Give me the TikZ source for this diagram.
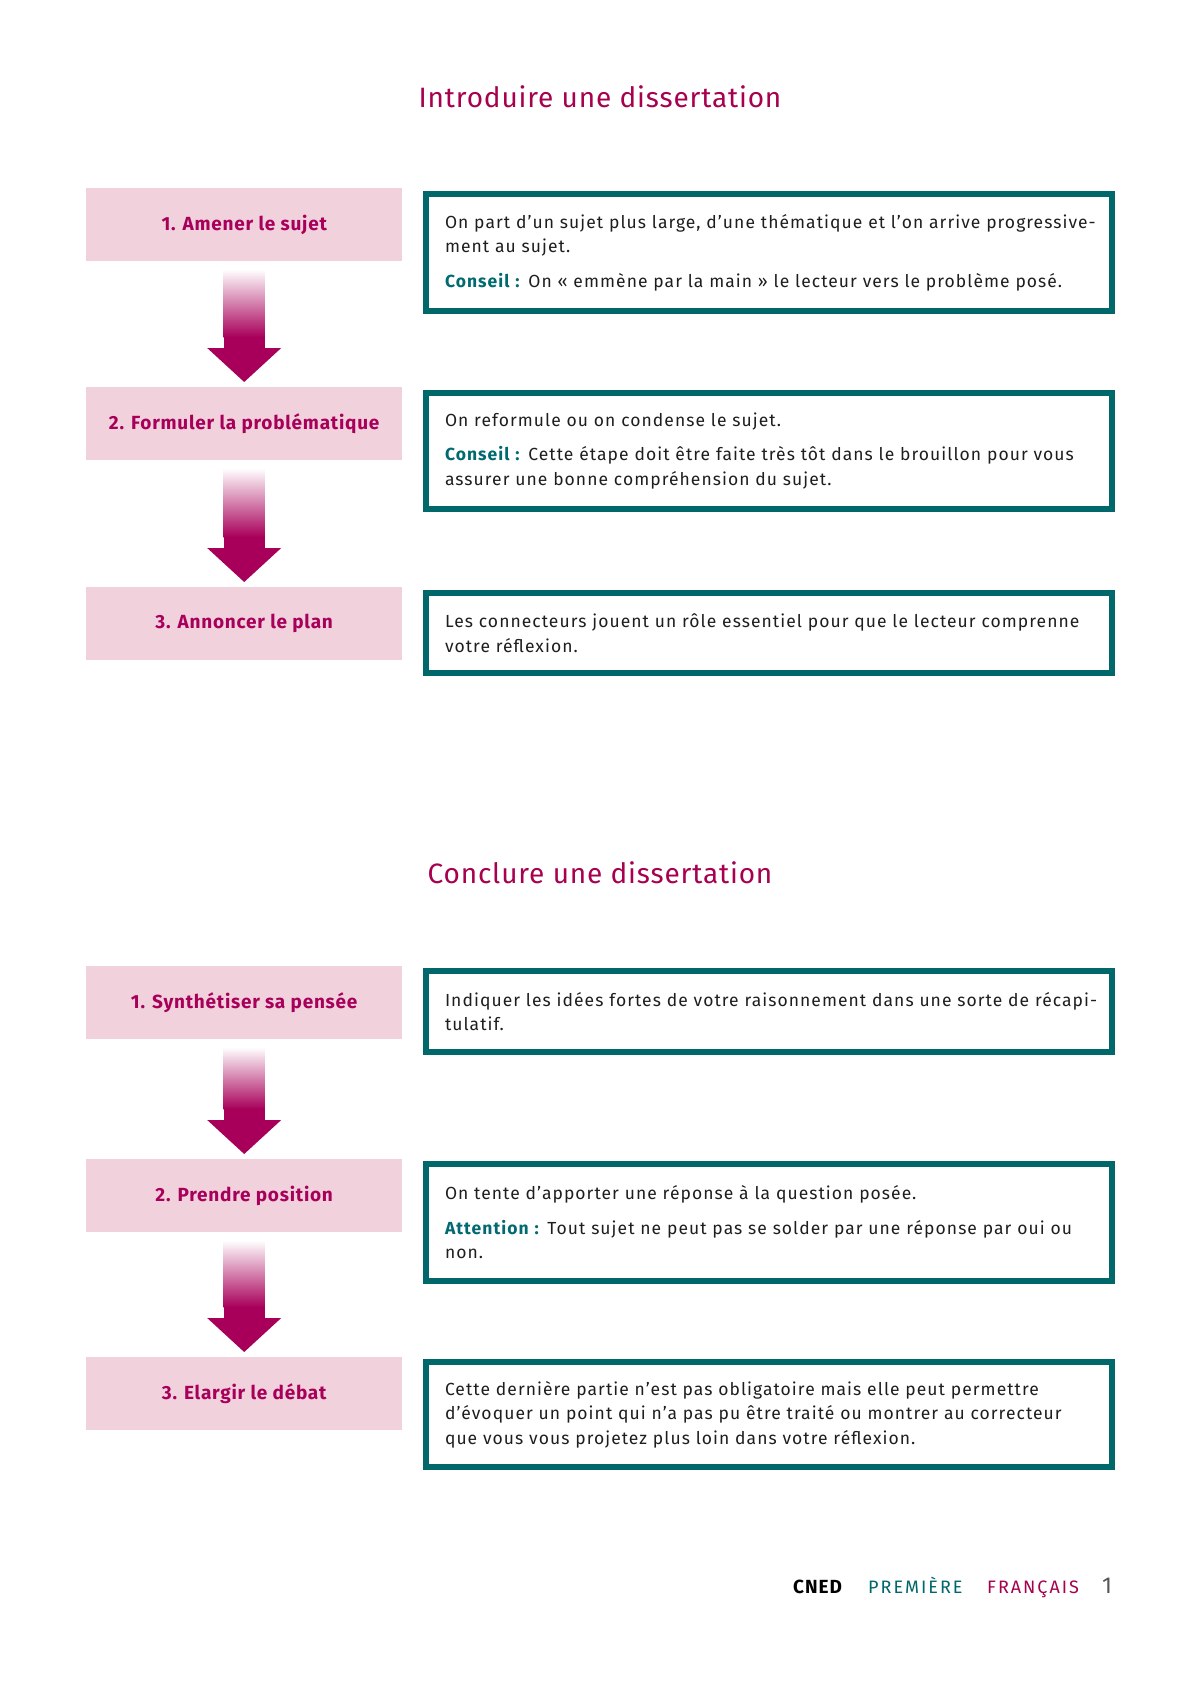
\documentclass[tikz,border=0pt]{standalone}
\usepackage{fontspec}
\setmainfont{Fira Sans}
\usetikzlibrary{calc}
\definecolor{mag}{HTML}{A8005A}
\definecolor{titlemag}{HTML}{A6004F}
\definecolor{pinkfill}{HTML}{F0D1DC}
\definecolor{tealb}{HTML}{00676B}
\definecolor{tealt}{HTML}{006A70}
\definecolor{footgray}{HTML}{555555}
\definecolor{bodytext}{HTML}{1E1E1E}
\newcommand\cnedarrow[2]{%
  \coordinate (#1-s) at ([yshift=-8pt]#1.south);
  \coordinate (#2-t) at ([yshift=5pt]#2.north);
  \coordinate (#2-h) at ([yshift=39pt]#2.north);
  \shade[top color=white, bottom color=mag] ($(#1-s)+(-20.5pt,0pt)$) rectangle ($(#2-h)+(20.5pt,11pt)$);
  \fill[mag] ($(#2-h)+(-20.5pt,11.5pt)$) rectangle ($(#2-h)+(20.5pt,0pt)$);
  \fill[mag] ($(#2-h)+(-37pt,0pt)$) -- ($(#2-h)+(37pt,0pt)$) -- (#2-t) -- cycle;
}
\newcommand\hl[1]{{\bfseries\color{tealt}#1}}
\newcommand\textline[1]{\mbox{#1}}
\begin{document}
\begin{tikzpicture}[x=1pt,y=-1pt,
  stepbox/.style={rectangle, fill=pinkfill, minimum width=316pt, minimum height=73pt,
    inner sep=0pt, text=mag, anchor=north west,
    font=\bfseries\fontsize{19}{22}\selectfont\addfontfeature{LetterSpace=4}},
  infobox/.style={rectangle, draw=tealb, line width=6pt, minimum width=686pt,
    inner xsep=19pt, inner ysep=4pt, text width=648pt, align=left, anchor=north west,
    text=bodytext, font=\fontsize{17.5}{24.5}\selectfont\addfontfeature{LetterSpace=6}},
  titletext/.style={anchor=base, text=titlemag, inner sep=0pt,
    font=\fontsize{28}{32}\selectfont\addfontfeature{LetterSpace=3}},
  foot/.style={anchor=base west, inner sep=0pt, font=\fontsize{18}{20}\selectfont\addfontfeature{LetterSpace=11}}]
\useasboundingbox (0,0) rectangle (1200,1696);
\fill[white] (0,0) rectangle (1200,1696);

\node[titletext] (t1) at (600,108) {Introduire une dissertation};

\node[stepbox] (a1) at (86,188) {1. Amener le sujet};
\node[stepbox] (a2) at (86,387) {2. Formuler la problématique};
\node[stepbox] (a3) at (86,587) {3. Annoncer le plan};

\node[infobox, minimum height=117pt] (b1) at (423,191) {\textline{On part d’un sujet plus large, d’une thématique et l’on arrive progressive-}\\\textline{ment au sujet.}\\[10pt]\textline{\hl{Conseil :} On « emmène par la main » le lecteur vers le problème posé.}};
\node[infobox, minimum height=116pt] (b2) at (423,390) {\textline{On reformule ou on condense le sujet.}\\[10pt]\textline{\hl{Conseil :} Cette étape doit être faite très tôt dans le brouillon pour vous}\\\textline{assurer une bonne compréhension du sujet.}};
\node[infobox, minimum height=80pt] (b3) at (423,590) {\textline{Les connecteurs jouent un rôle essentiel pour que le lecteur comprenne}\\\textline{votre réflexion.}};

\cnedarrow{a1}{a2}
\cnedarrow{a2}{a3}

\node[titletext] (t2) at (600,883) {Conclure une dissertation};

\node[stepbox] (c1) at (86,966) {1. Synthétiser sa pensée};
\node[stepbox] (c2) at (86,1159) {2. Prendre position};
\node[stepbox] (c3) at (86,1357) {3. Elargir le débat};

\node[infobox, minimum height=81pt] (d1) at (423,968) {\textline{Indiquer les idées fortes de votre raisonnement dans une sorte de récapi-}\\\textline{tulatif.}};
\node[infobox, minimum height=117pt] (d2) at (423,1161) {\textline{On tente d’apporter une réponse à la question posée.}\\[10pt]\textline{\hl{Attention :} Tout sujet ne peut pas se solder par une réponse par oui ou}\\\textline{non.}};
\node[infobox, minimum height=105pt] (d3) at (423,1359) {\textline{Cette dernière partie n’est pas obligatoire mais elle peut permettre}\\\textline{d’évoquer un point qui n’a pas pu être traité ou montrer au correcteur}\\\textline{que vous vous projetez plus loin dans votre réflexion.}};

\cnedarrow{c1}{c2}
\cnedarrow{c2}{c3}

\node[foot, font=\bfseries\fontsize{19}{20}\selectfont\addfontfeature{LetterSpace=5}] (f1) at (793,1593) {CNED};
\node[foot, text=tealb] (f2) at (868,1593) {PREMIÈRE};
\node[foot, text=titlemag] (f3) at (987,1593) {FRANÇAIS};
\node[foot, text=footgray, font=\fontsize{23}{26}\selectfont] (f4) at (1102,1593) {1};
\end{tikzpicture}
\end{document}
